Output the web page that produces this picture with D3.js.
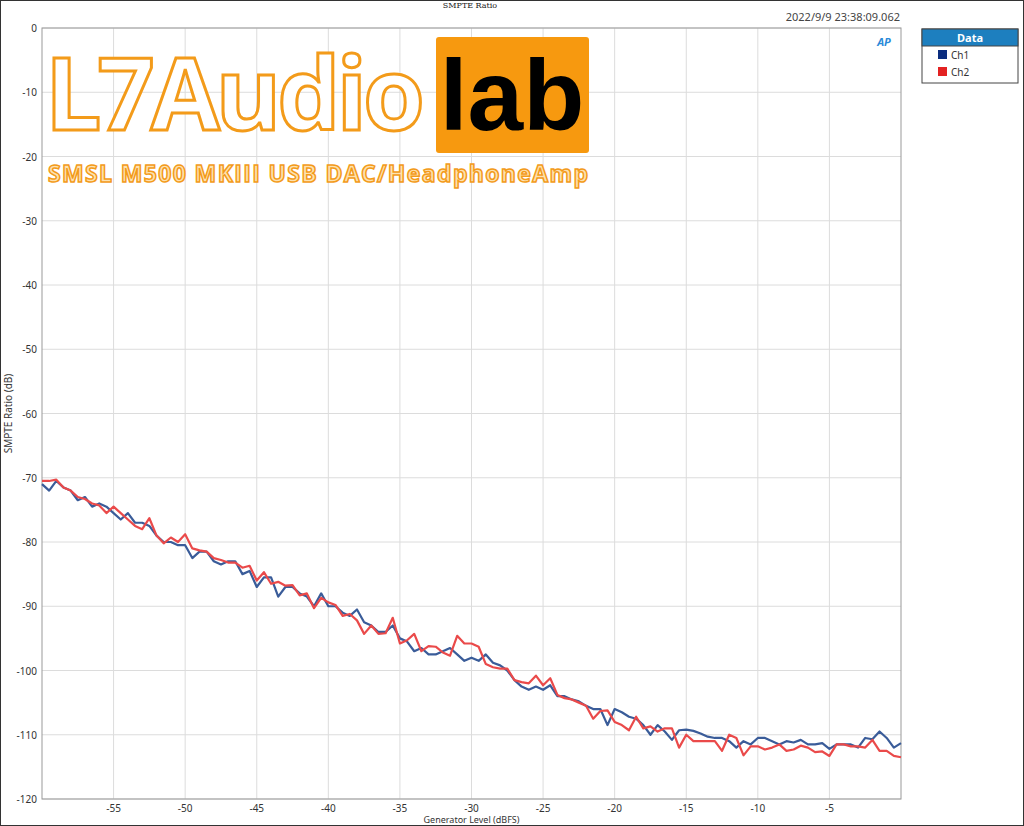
<!DOCTYPE html>
<html><head><meta charset="utf-8">
<script src="https://cdn.jsdelivr.net/npm/d3@7"></script>
<style>body{margin:0;background:#fff}svg{display:block}</style>
</head><body>
<svg id="chart" width="1024" height="826"></svg>
<script>
// generator levels, 0.5 dB steps
const levels = d3.range(-60, 0.001, 0.5);
const ch1 = [-71,-72,-70.5,-71.5,-72,-73.5,-73,-74.5,-74,-74.5,-75.5,-76.5,-75.5,-77,-77,-77.5,-79,-80,-80,-80.5,-80.5,-82.5,-81.5,-81.5,-83,-83.5,-83,-83,-85,-84.5,-87,-85.5,-85.5,-88.5,-87,-87,-88,-88.5,-90,-88,-90,-90,-91,-91.5,-90.5,-92.5,-93,-94,-94,-93,-95,-95.5,-97,-96.5,-97.5,-97.5,-97,-96.5,-97.5,-98.5,-98,-98.5,-97.5,-98.8,-99.2,-100,-101.5,-102.5,-103,-102.5,-103,-102.3,-104,-104,-104.5,-104.8,-105.5,-106,-106,-108.5,-106,-106.5,-107.2,-107.5,-108.5,-110,-108.5,-109.5,-110.8,-109.3,-109.2,-109.4,-109.8,-110.3,-110.5,-110.5,-111,-112,-111,-111.5,-110.5,-110.5,-111,-111.5,-111,-111.2,-110.8,-111.5,-111.5,-111.3,-112.2,-111.5,-111.5,-111.5,-112,-110.5,-110.7,-109.5,-110.5,-112,-111.3];
const ch2 = [-70.5,-70.5,-70.3,-71.5,-72,-73,-73.3,-74,-74.3,-75.5,-74.5,-75.5,-76.5,-77.5,-78,-76.3,-79,-80.2,-79.3,-80,-78.8,-81,-81.3,-81.5,-82.5,-82.8,-83.2,-83.2,-84,-83.7,-86,-84.7,-86.5,-86.2,-86.8,-86.7,-88.3,-88,-90.3,-88.7,-89.4,-89.8,-91.5,-91.2,-92.2,-94.3,-93,-94.3,-94.2,-91.8,-95.8,-95.3,-94.3,-97,-96.2,-96.3,-97.2,-97.7,-94.6,-95.8,-95.8,-96.3,-99,-99.5,-99.7,-99.7,-101.5,-101.8,-102,-100.8,-102.3,-101.2,-103.8,-104.3,-104.5,-105,-105.5,-107.5,-106.3,-106.2,-108,-108.5,-109.3,-107.2,-109,-108.7,-109.5,-109,-109,-112,-110,-111,-111,-111,-111,-112.5,-110,-110.5,-113.2,-111.8,-111.8,-112.3,-112,-111.5,-112.5,-112.3,-111.7,-112,-112.7,-112.6,-113.3,-111.5,-111.5,-111.8,-111.8,-112,-110.8,-112.5,-112.5,-113.3,-113.5];
const xTicks = [-55,-50,-45,-40,-35,-30,-25,-20,-15,-10,-5];
const yTicks = [0,-10,-20,-30,-40,-50,-60,-70,-80,-90,-100,-110,-120];
const series = [{name:"Ch1", values:ch1, color:"#3a5c99", key:"#0b2d7e"},
                {name:"Ch2", values:ch2, color:"#ea4a4a", key:"#e32222"}];

const svg = d3.select("#chart");
const m = {l:42, r:901, t:28, b:799};
const x = d3.scaleLinear().domain([-60,0]).range([m.l,m.r]);
const y = d3.scaleLinear().domain([-120,0]).range([m.b,m.t]);

svg.append("rect").attr("x",0.5).attr("y",0.5).attr("width",1023).attr("height",825)
  .attr("fill","none").attr("stroke","#333");

// grid
svg.append("g").selectAll("line").data(xTicks).join("line")
  .attr("x1",d=>x(d)).attr("x2",d=>x(d)).attr("y1",m.t).attr("y2",m.b)
  .attr("stroke","#dcdcdc");
svg.append("g").selectAll("line").data(yTicks).join("line")
  .attr("x1",m.l).attr("x2",m.r).attr("y1",d=>y(d)).attr("y2",d=>y(d))
  .attr("stroke","#dcdcdc");
svg.append("rect").attr("x",m.l).attr("y",m.t).attr("width",m.r-m.l).attr("height",m.b-m.t)
  .attr("fill","none").attr("stroke","#999");

const font = "'Segoe UI','Noto Sans',sans-serif";
svg.append("g").selectAll("text").data(xTicks).join("text")
  .attr("x",d=>x(d)).attr("y",m.b+13).attr("text-anchor","middle")
  .attr("font-family",font).attr("font-size",10).attr("fill","#333").text(d=>d);
svg.append("g").selectAll("text").data(yTicks).join("text")
  .attr("x",m.l-5).attr("y",d=>y(d)+4).attr("text-anchor","end")
  .attr("font-family",font).attr("font-size",10).attr("fill","#333").text(d=>d);

svg.append("text").attr("x",(m.l+m.r)/2).attr("y",823).attr("text-anchor","middle")
  .attr("font-family",font).attr("font-size",9).attr("fill","#333").text("Generator Level (dBFS)");
svg.append("text").attr("transform",`translate(12,${(m.t+m.b)/2}) rotate(-90)`).attr("text-anchor","middle")
  .attr("font-family",font).attr("font-size",10).attr("fill","#333").text("SMPTE Ratio (dB)");
svg.append("text").attr("x",470).attr("y",8).attr("text-anchor","middle")
  .attr("font-family","'DejaVu Serif',serif").attr("font-size",8).attr("fill","#222").text("SMPTE Ratio");
svg.append("text").attr("x",900).attr("y",21).attr("text-anchor","end")
  .attr("font-family",font).attr("font-size",11).attr("fill","#444").text("2022/9/9 23:38:09.062");
svg.append("text").attr("x",884).attr("y",46).attr("text-anchor","middle")
  .attr("font-family",font).attr("font-size",11).attr("font-weight","bold").attr("font-style","italic")
  .attr("fill","#2a8ad8").text("AP");

// watermark
svg.append("text").attr("x",45).attr("y",130).attr("font-family","'Open Sans',sans-serif")
  .attr("font-size",100).attr("font-weight","bold").attr("fill","#fff")
  .attr("stroke","#f39b1a").attr("stroke-width",3).attr("textLength",380).text("L7Audio");
svg.append("rect").attr("x",436).attr("y",37).attr("width",153).attr("height",116).attr("rx",3).attr("fill","#f7990f");
svg.append("text").attr("x",512).attr("y",130).attr("text-anchor","middle").attr("font-family","'Liberation Sans',Arial,sans-serif")
  .attr("font-size",100).attr("font-weight","bold").attr("fill","#000").text("lab");
svg.append("text").attr("x",48).attr("y",182).attr("font-family","'Open Sans',sans-serif")
  .attr("font-size",23).attr("font-weight","bold").attr("fill","#fde2b0")
  .attr("stroke","#f39b1a").attr("stroke-width",1.5).attr("textLength",540).text("SMSL M500 MKIII USB DAC/HeadphoneAmp");

// lines
const line = d3.line().x((d,i)=>x(levels[i])).y(d=>y(d));
svg.append("g").selectAll("path").data(series).join("path")
  .attr("d",d=>line(d.values)).attr("fill","none").attr("stroke",d=>d.color)
  .attr("stroke-width",2.2).attr("stroke-linejoin","round");

// legend
const lg = svg.append("g").attr("transform","translate(922,29)");
lg.append("rect").attr("width",96).attr("height",54).attr("fill","#fff").attr("stroke","#444");
lg.append("rect").attr("width",96).attr("height",17).attr("fill","#1d7fbf").attr("stroke","#444");
lg.append("text").attr("x",48).attr("y",13).attr("text-anchor","middle").attr("font-family",font)
  .attr("font-size",11).attr("font-weight","bold").attr("fill","#fff").text("Data");
const it = lg.selectAll("g.item").data(series).join("g").attr("transform",(d,i)=>`translate(16,${21+i*17})`);
it.append("rect").attr("width",9).attr("height",9).attr("fill",d=>d.key);
it.append("text").attr("x",13).attr("y",9).attr("font-family",font).attr("font-size",10).attr("fill","#333").text(d=>d.name);
</script>
</body></html>
